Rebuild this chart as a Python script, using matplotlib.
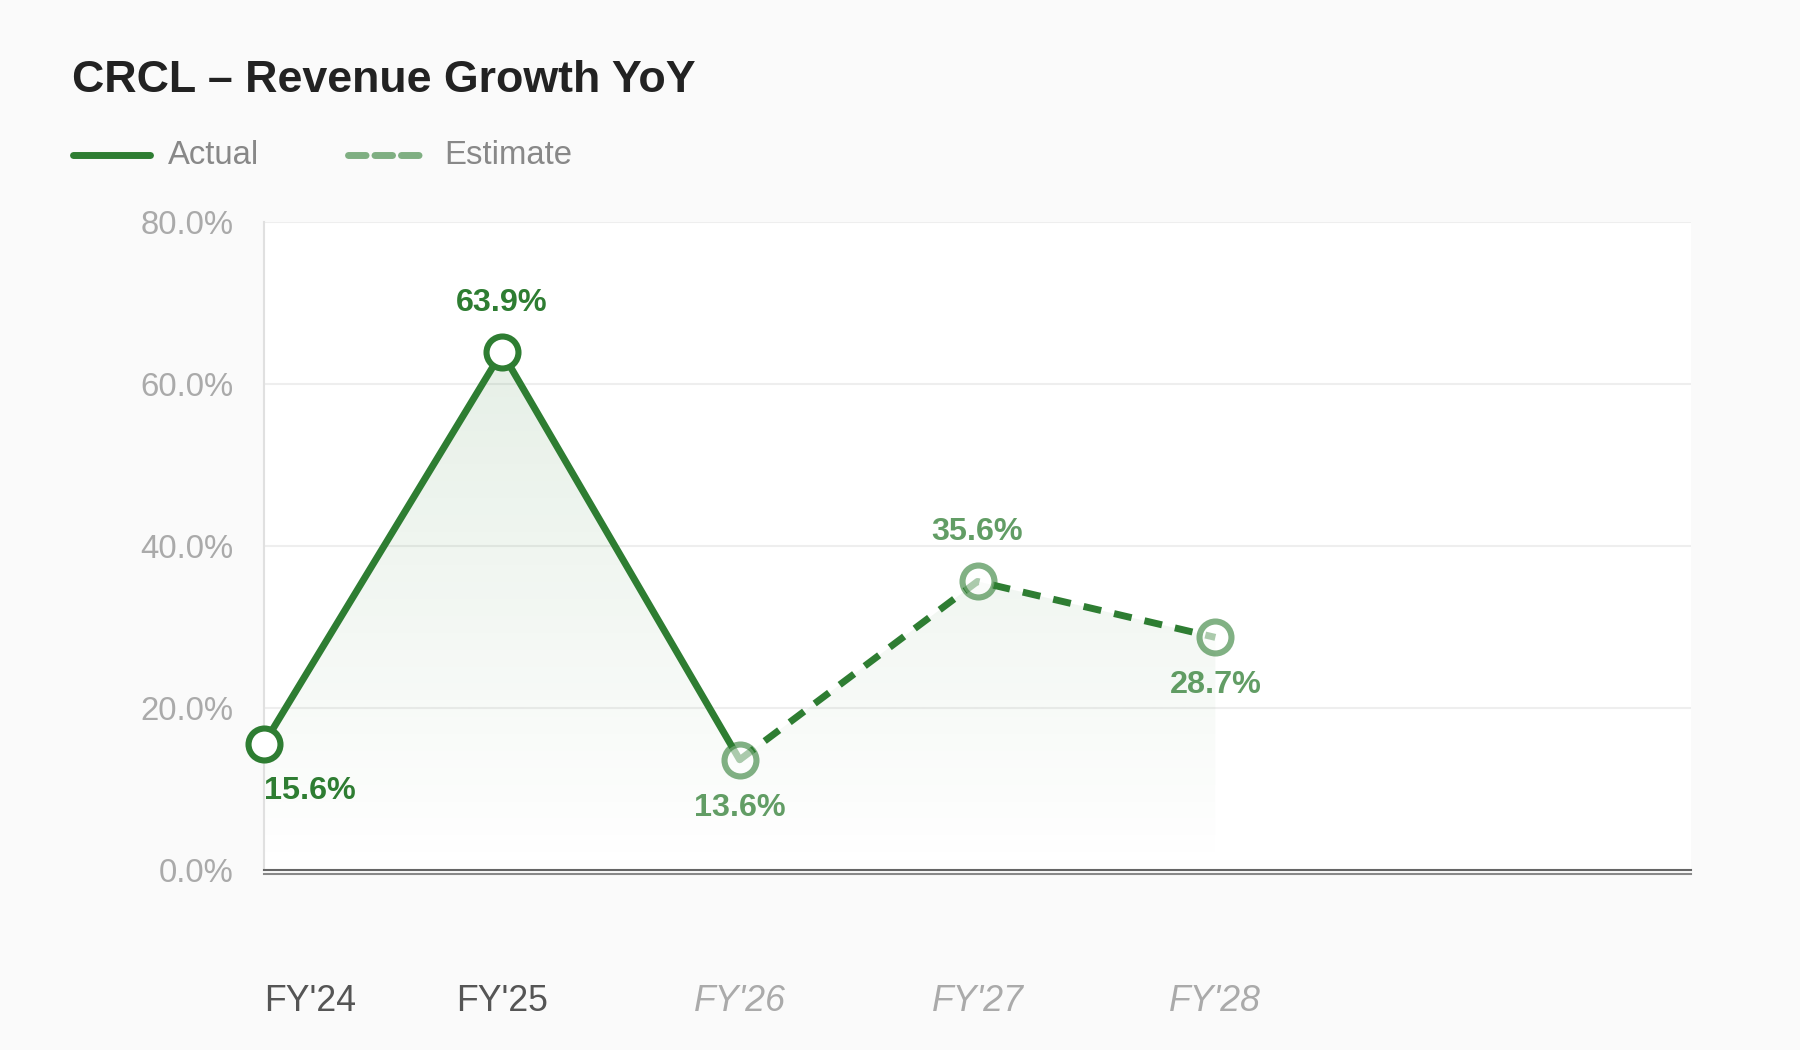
import matplotlib
matplotlib.use('Agg')
import matplotlib.pyplot as plt
import matplotlib.transforms as mtransforms
import matplotlib.colors as mcolors
from matplotlib.lines import Line2D
from matplotlib.patches import Polygon
import numpy as np

plt.rcParams['font.family'] = ['Liberation Sans', 'DejaVu Sans']

# ---- data ----
categories = ["FY'24", "FY'25", "FY'26", "FY'27", "FY'28"]
growth = [15.6, 63.9, 13.6, 35.6, 28.7]
is_estimate = [False, False, True, True, True]
y_ticks = [0, 20, 40, 60, 80]
title = "CRCL – Revenue Growth YoY"
legend_labels = ["Actual", "Estimate"]

GREEN = '#2e7d32'
W, H = 1800, 1050

fig = plt.figure(figsize=(18, 10.5), dpi=100, facecolor='#fafafa')
ax = fig.add_axes([264 / W, 1 - 870 / H, (1691 - 264) / W, (870 - 221.6) / H])
ax.set_facecolor('white')

x = np.arange(len(categories))

# gradient fill under the line
verts = [(x[0], 0)] + list(zip(x, growth)) + [(x[-1], 0)]
poly = Polygon(verts, closed=True, facecolor='none', edgecolor='none')
ax.add_patch(poly)
grad = np.zeros((256, 1, 4))
grad[..., :3] = mcolors.to_rgb(GREEN)
grad[..., 3] = np.linspace(0.12, 0.0, 256)[:, None]
im = ax.imshow(grad, extent=[x[0], x[-1], 0, max(growth)], aspect='auto',
               origin='upper', zorder=1, interpolation='bilinear')
im.set_clip_path(poly)

ax.set_xlim(0, 6)
ax.set_ylim(0, 80)

# grid
for yv in y_ticks[1:]:
    ax.axhline(yv, color='#eeeeee', lw=1.5, zorder=0.5)

# lines
first_est = is_estimate.index(True)
act_x = x[:first_est + 1]
act_y = growth[:first_est + 1]
est_x = x[first_est:]
est_y = growth[first_est:]
ax.plot(act_x, act_y, color=GREEN, lw=5, solid_capstyle='round',
        solid_joinstyle='round', zorder=3)
ax.plot(est_x, est_y, color=GREEN, lw=5, dashes=(2.6, 1.9),
        dash_capstyle='butt', zorder=3)

# markers
for xi, yi, est in zip(x, growth, is_estimate):
    if est:
        ec = mcolors.to_rgba(GREEN, 0.6)
        fc = (1, 1, 1, 0.6)
    else:
        ec = GREEN
        fc = 'white'
    ax.plot([xi], [yi], marker='o', ms=23, mew=4.4, mec=ec, mfc=fc,
            linestyle='none', zorder=4, clip_on=False)

# value labels
n = len(growth)
for i, (xi, yi, est) in enumerate(zip(x, growth, is_estimate)):
    left = growth[i - 1] if i > 0 else -np.inf
    right = growth[i + 1] if i < n - 1 else -np.inf
    peak = yi > left and yi > right
    dy = 35.5 if peak else -34.5
    ha = 'left' if i == 0 else 'center'
    col = mcolors.to_rgba(GREEN, 0.75) if est else GREEN
    ax.annotate(f"{yi:.1f}%", (xi, yi), xytext=(0, dy), textcoords='offset points',
                ha=ha, va='center', fontsize=23.3, fontweight='bold', color=col,
                zorder=5)

# spines
for s in ['top', 'right']:
    ax.spines[s].set_visible(False)
ax.spines['left'].set_color('#e0e0e0')
ax.spines['left'].set_linewidth(1.5)
ax.spines['bottom'].set_color('#666666')
ax.spines['bottom'].set_linewidth(1.5)
off = mtransforms.ScaledTranslation(0, -3.5 / 100, fig.dpi_scale_trans)
ax.plot([0, 1], [0, 0], transform=ax.transAxes + off, color='#888888', lw=1.5,
        clip_on=False, zorder=2)

# ticks
ax.set_yticks(y_ticks)
ax.set_yticklabels([f"{v:.1f}%" for v in y_ticks])
ax.tick_params(axis='y', length=0, pad=22, labelsize=23.7, labelcolor='#aaaaaa')
ax.set_xticks(x)
ax.set_xticklabels(categories)
ax.tick_params(axis='x', length=0, pad=82, labelsize=25.7)
for i, (lab, est) in enumerate(zip(ax.get_xticklabels(), is_estimate)):
    if i == 0:
        lab.set_ha('left')
    if est:
        lab.set_color('#aaaaaa')
        lab.set_fontstyle('italic')
    else:
        lab.set_color('#555555')

# title
fig.text(72 / W, 1 - 80 / H, title, fontsize=32.2, fontweight='bold',
         color='#222222', ha='left', va='center')

# legend
ly = 1 - 155 / H
fig.add_artist(Line2D([72.5 / W, 149.5 / W], [ly, ly], transform=fig.transFigure,
                      color=GREEN, lw=5, solid_capstyle='round'))
fig.text(168 / W, ly, legend_labels[0], fontsize=23.7, color='#888888',
         ha='left', va='center')
fig.add_artist(Line2D([347.5 / W, 418.5 / W], [ly, ly], transform=fig.transFigure,
                      color=mcolors.to_rgba(GREEN, 0.6), lw=5,
                      dashes=(17.7 / 7, 9.0 / 7), dash_capstyle='round'))
fig.text(444 / W, ly, legend_labels[1], fontsize=23.7, color='#888888',
         ha='left', va='center')

fig.savefig('out.png', dpi=100, facecolor=fig.get_facecolor())
